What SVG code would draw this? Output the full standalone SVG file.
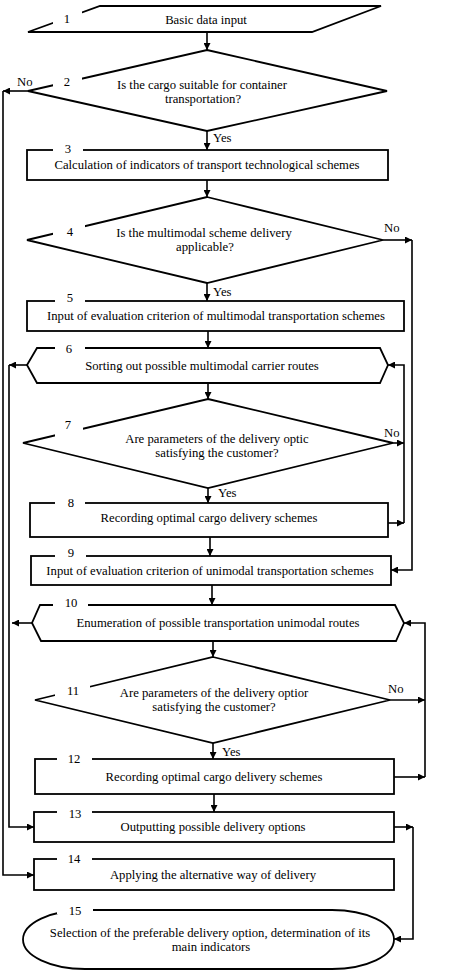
<svg xmlns="http://www.w3.org/2000/svg" width="474" height="978" viewBox="0 0 474 978">
<defs>
<marker id="ah" viewBox="0 0 10 10" refX="10" refY="5" markerWidth="7" markerHeight="7" markerUnits="userSpaceOnUse" orient="auto">
<path d="M0,0 L10,5 L0,10 Z" fill="#000"/>
</marker>
</defs>
<style>
.s{fill:#fff;stroke:#000;stroke-width:1.8}
.g{fill:#fff;stroke:none}
.a{fill:none;stroke:#000;stroke-width:1.6;marker-end:url(#ah)}
text{font-family:"Liberation Serif","Times New Roman",serif;font-size:12.7px;fill:#000}
.m{text-anchor:middle}
</style>
<rect width="474" height="978" fill="#fff"/>

<g id="connectors">
<line class="a" x1="207" y1="32" x2="207" y2="50"/>
<line class="a" x1="207" y1="131" x2="207" y2="150"/>
<line class="a" x1="207" y1="180" x2="207" y2="197"/>
<line class="a" x1="207" y1="283" x2="207" y2="301"/>
<line class="a" x1="208" y1="331" x2="208" y2="348"/>
<line class="a" x1="208" y1="383" x2="208" y2="399"/>
<line class="a" x1="208" y1="488" x2="208" y2="503"/>
<line class="a" x1="210" y1="537" x2="210" y2="556"/>
<line class="a" x1="212" y1="585" x2="212" y2="605"/>
<line class="a" x1="213" y1="641" x2="213" y2="657"/>
<line class="a" x1="213" y1="743" x2="213" y2="759"/>
<line class="a" x1="214" y1="794" x2="214" y2="812"/>
<line class="a" x1="28" y1="91" x2="3" y2="91"/>
<polyline class="a" points="3,91 3,875 34,875"/>
<line class="a" x1="383" y1="240" x2="412" y2="240"/>
<polyline class="a" points="412,240 412,570 391,570"/>
<line class="a" x1="27" y1="365" x2="9" y2="365"/>
<polyline class="a" points="9,365 9,827 34,827"/>
<line class="a" x1="393" y1="443" x2="404" y2="443"/>
<line class="a" x1="388" y1="523" x2="404" y2="523"/>
<polyline class="a" points="404,523 404,365 388,365"/>
<line class="a" x1="32" y1="623" x2="12" y2="623"/>
<line class="a" x1="390" y1="700" x2="425" y2="700"/>
<line class="a" x1="394" y1="777" x2="425" y2="777"/>
<polyline class="a" points="425,777 425,623 404,623"/>
<line class="a" x1="394" y1="827" x2="413" y2="827"/>
<polyline class="a" points="413,827 413,939 394,939"/>
</g>

<g id="n1">
<polygon class="s" points="100,6 381,6 312,32 28,32"/>
<rect class="g" x="53" y="11" width="29" height="14"/>
<text class="m" x="67" y="23">1</text>
<text class="m" x="206" y="24">Basic data input</text>
</g>

<g id="n2">
<polygon class="s" points="207,50 387,91 207,131 28,91"/>
<rect class="g" x="53" y="76" width="29" height="13"/>
<text class="m" x="67" y="86">2</text>
<text x="17" y="86">No</text>
<text class="m" x="202" y="89">Is the cargo suitable for container</text>
<text class="m" x="203" y="103">transportation?</text>
<text x="213" y="142">Yes</text>
</g>

<g id="n3">
<rect class="s" x="27" y="150" width="361" height="30"/>
<rect class="g" x="53" y="146" width="30" height="8"/>
<text class="m" x="68" y="153">3</text>
<text class="m" x="207" y="169">Calculation of indicators of transport technological schemes</text>
</g>

<g id="n4">
<polygon class="s" points="207,197 383,240 207,283 27,240"/>
<rect class="g" x="53" y="224" width="32" height="13"/>
<text class="m" x="70" y="236">4</text>
<text x="384" y="232">No</text>
<text class="m" x="204" y="237">Is the multimodal scheme delivery</text>
<text class="m" x="205" y="251">applicable?</text>
<text x="213" y="296">Yes</text>
</g>

<g id="n5">
<rect class="s" x="27" y="301" width="377" height="30"/>
<rect class="g" x="55" y="297" width="30" height="8"/>
<text class="m" x="70" y="302">5</text>
<text class="m" x="216" y="320">Input of evaluation criterion of multimodal transportation schemes</text>
</g>

<g id="n6">
<polygon class="s" points="37,348 380,348 388,365 380,383 37,383 27,365"/>
<rect class="g" x="55" y="344" width="30" height="8"/>
<text class="m" x="69" y="353">6</text>
<text class="m" x="202" y="370">Sorting out possible multimodal carrier routes</text>
</g>

<g id="n7">
<polygon class="s" points="208,399 393,443 208,488 23,443"/>
<rect class="g" x="55" y="420" width="28" height="18"/>
<text class="m" x="68" y="429">7</text>
<text x="384" y="437">No</text>
<text class="m" x="217" y="443">Are parameters of the delivery optic</text>
<text class="m" x="217" y="457">satisfying the customer?</text>
<text x="218" y="497">Yes</text>
</g>

<g id="n8">
<rect class="s" x="30" y="503" width="358" height="34"/>
<rect class="g" x="55" y="499" width="30" height="8"/>
<text class="m" x="71" y="507">8</text>
<text class="m" x="209" y="522">Recording optimal cargo delivery schemes</text>
</g>

<g id="n9">
<rect class="s" x="31" y="556" width="360" height="29"/>
<rect class="g" x="55" y="552" width="31" height="8"/>
<text class="m" x="71" y="557">9</text>
<text class="m" x="210" y="575">Input of evaluation criterion of unimodal transportation schemes</text>
</g>

<g id="n10">
<polygon class="s" points="40,605 395,605 404,623 396,641 41,641 32,623"/>
<rect class="g" x="53" y="601" width="35" height="8"/>
<text class="m" x="71" y="607">10</text>
<text class="m" x="218" y="627">Enumeration of possible transportation unimodal routes</text>
</g>

<g id="n11">
<polygon class="s" points="213,657 390,700 213,743 35,700"/>
<rect class="g" x="55" y="682" width="35" height="16"/>
<text class="m" x="73" y="695">11</text>
<text x="388" y="693">No</text>
<text class="m" x="214" y="697">Are parameters of the delivery optior</text>
<text class="m" x="214" y="711">satisfying the customer?</text>
<text x="222" y="756">Yes</text>
</g>

<g id="n12">
<rect class="s" x="35" y="759" width="359" height="35"/>
<rect class="g" x="57" y="755" width="35" height="8"/>
<text class="m" x="74" y="763">12</text>
<text class="m" x="214" y="781">Recording optimal cargo delivery schemes</text>
</g>

<g id="n13">
<rect class="s" x="34" y="812" width="360" height="30"/>
<rect class="g" x="57" y="808" width="35" height="8"/>
<text class="m" x="75" y="818">13</text>
<text class="m" x="213" y="831">Outputting possible delivery options</text>
</g>

<g id="n14">
<rect class="s" x="34" y="859" width="360" height="31"/>
<rect class="g" x="57" y="855" width="35" height="8"/>
<text class="m" x="74" y="863">14</text>
<text class="m" x="213" y="879">Applying the alternative way of delivery</text>
</g>

<g id="n15">
<rect class="s" x="23" y="910" width="371" height="59" rx="62" ry="29.5"/>
<rect class="g" x="57" y="906" width="36" height="8"/>
<text class="m" x="75" y="915">15</text>
<text class="m" x="210" y="937">Selection of the preferable delivery option, determination of its</text>
<text class="m" x="211" y="951">main indicators</text>
</g>
</svg>
